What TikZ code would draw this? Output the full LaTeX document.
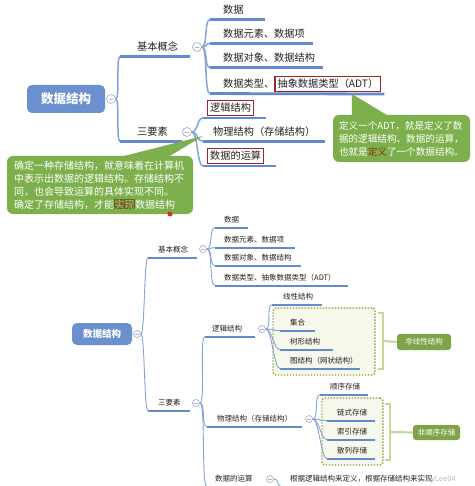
\documentclass[tikz,border=0pt]{standalone}
\usepackage{fontspec}
\setmainfont{Noto Sans CJK SC}
\usetikzlibrary{positioning}

\definecolor{txt}{HTML}{222222}
\definecolor{lineblue}{HTML}{6489CC}
\definecolor{fanblue}{HTML}{86A2D6}
\definecolor{rootblue}{HTML}{6A90D0}
\definecolor{foldgray}{HTML}{A7B3CC}
\definecolor{boxred}{HTML}{A0262C}
\definecolor{callgreen}{HTML}{7DB04C}
\definecolor{hlred}{HTML}{8E2B12}
\definecolor{hlbg}{HTML}{5F6A2C}
\definecolor{hltx}{HTML}{D9BD63}
\definecolor{dotolive}{HTML}{8C9A3A}
\definecolor{grpfill}{HTML}{F6F8EC}
\definecolor{brkgreen}{HTML}{C5D99B}
\definecolor{labgreen}{HTML}{7FA347}
\definecolor{dotred}{HTML}{D0302A}

\newcommand{\hlword}[1]{{\setlength{\fboxsep}{0.6pt}\colorbox{hlbg}{\color{hltx}#1}}}

\tikzset{
big/.style={font=\fontsize{10.2}{12}\selectfont,text=txt,text height=8.2pt,text depth=1.3pt,inner xsep=0pt,inner ysep=2.6pt,anchor=west},
small/.style={font=\fontsize{7.5}{9}\selectfont,text=txt,text height=6pt,text depth=0.9pt,inner xsep=0pt,inner ysep=2pt,anchor=west},
redbox/.style={draw=boxred,line width=1.3pt,inner xsep=2.5pt},
root/.style={fill=rootblue,text=white,rounded corners=5pt,inner sep=0pt},
fold/.style={circle,draw=foldgray,fill=white,line width=0.7pt,inner sep=0pt,minimum size=#1,
  path picture={\draw[foldgray,line width=0.7pt] ([xshift=-0.22*#1]path picture bounding box.center) -- ([xshift=0.22*#1]path picture bounding box.center);}},
fold/.default=9pt,
ulbig/.style={draw=lineblue,line width=2.8pt},
ulsmall/.style={draw=lineblue,line width=1.8pt},
fanbig/.style={draw=fanblue,line width=1.5pt},
fansmall/.style={draw=fanblue,line width=0.9pt},
fan/.style={out=0,in=180,distance=#1},
fan/.default=6pt,
grp/.style={draw=dotolive,fill=grpfill,line width=1.4pt,dash pattern=on 1.3pt off 1.7pt,rounded corners=3pt},
brk/.style={draw=brkgreen,line width=2.2pt},
tag/.style={fill=labgreen,text=white,rounded corners=3pt,inner sep=0pt,font=\fontsize{7.5}{9}\selectfont},
callout/.style={fill=callgreen,text=white,rounded corners=6pt,align=left,inner xsep=7pt}
}

\begin{document}
\begin{tikzpicture}[x=1pt,y=-1pt]

\path[fill=white,use as bounding box]
(0,0)
rectangle
(474,486);

\node[root,minimum width=78pt,minimum height=28pt,font=\fontsize{12.5}{14}\selectfont\bfseries]
(r1)
at (66,99)
{数据结构};

\node[fold]
(rc1)
at (111,99)
{};

\node[big]
(k1)
at (137,47)
{基本概念};

\node[fold]
(kc1)
at (197,47)
{};

\node[big]
(k2)
at (137,132)
{三要素};

\node[fold]
(kc2)
at (187,132)
{};

\node[big]
(d1)
at (223,10)
{数据};

\node[big]
(d2)
at (223,34)
{数据元素、数据项};

\node[big]
(d3)
at (223,58)
{数据对象、数据结构};

\node[big]
(d4a)
at (223,84)
{数据类型、};

\node[big,redbox,right=0pt of d4a]
(d4b)
{抽象数据类型（ADT）};

\node[big,redbox]
(e1)
at (207,108)
{逻辑结构};

\node[big]
(e2)
at (213,132)
{物理结构（存储结构）};

\node[big,redbox]
(e3)
at (207,156)
{数据的运算};

\node[grp,minimum width=102pt,minimum height=67pt]
(grp1)
at (324,341.5)
{};

\node[grp,minimum width=61pt,minimum height=67pt]
(grp2)
at (352.5,431.5)
{};

\node[root,minimum width=60pt,minimum height=22pt,font=\fontsize{9.5}{11}\selectfont\bfseries]
(r2)
at (102,334)
{数据结构};

\node[fold=7pt]
(rc2)
at (137,334)
{};

\node[small]
(b1)
at (158,250)
{基本概念};

\node[fold=7pt]
(bc1)
at (203,249)
{};

\node[small]
(b2)
at (158,403)
{三要素};

\node[fold=7pt]
(bc2)
at (196,403)
{};

\node[small]
(c1)
at (224,220)
{数据};

\node[small]
(c2)
at (224,240)
{数据元素、数据项};

\node[small]
(c3)
at (224,258)
{数据对象、数据结构};

\node[small]
(c4)
at (224,278)
{数据类型、抽象数据类型（ADT）};

\node[small]
(f1)
at (212,329)
{逻辑结构};

\node[fold=7pt]
(fc1)
at (262,329)
{};

\node[small]
(f2)
at (217,419)
{物理结构（存储结构）};

\node[fold=7pt]
(fc2)
at (309,419)
{};

\node[small]
(f3)
at (215,479)
{数据的运算};

\node[fold=7pt]
(fc3)
at (270,479)
{};

\node[small]
(g1)
at (283,297)
{线性结构};

\node[small]
(g2)
at (290,323)
{集合};

\node[small]
(g3)
at (290,342)
{树形结构};

\node[small]
(g4)
at (290,361)
{图结构（网状结构）};

\node[small]
(h1)
at (330,387)
{顺序存储};

\node[small]
(h2)
at (337,413)
{链式存储};

\node[small]
(h3)
at (337,432)
{索引存储};

\node[small]
(h4)
at (337,451)
{散列存储};

\node[small]
(j1)
at (290,479)
{根据逻辑结构来定义，根据存储结构来实现};

\node[small,text=gray!55]
(wm)
at (427,479)
{cyLee04};

\foreach \n/\a/\b in {d1/13/21,d2/13/8,d3/13/8,k1/17/12,k2/17/14,e1/4/12,e2/10/10,e3/4/12}{
\coordinate (\n-u) at ([xshift=-\a,yshift=-2pt]\n.south west);
\draw[ulbig] (\n-u) -- ([xshift=\b,yshift=-2pt]\n.south east);
}

\coordinate (d4a-u) at ([xshift=-13,yshift=-2pt]d4a.south west);
\draw[ulbig]
(d4a-u)
--
([xshift=3,yshift=-2pt]d4b.south east);

\foreach \n/\a/\b in {b1/10/9,b2/10/9,c1/9/9,c2/9/11,c3/9/9,c4/9/12,f1/7/13,f2/10/10,f3/8/9,g1/11/9,g2/10/10,g3/10/13,g4/10/2,h1/10/8,h2/10/8,h3/10/8,h4/10/8,j1/8/5}{
\coordinate (\n-u) at ([xshift=-\a,yshift=-2pt]\n.south west);
\draw[ulsmall] (\n-u) -- ([xshift=\b,yshift=-2pt]\n.south east);
}

\draw[fanbig] (rc1.east) to[fan=4pt] (k1-u);
\draw[fanbig] (rc1.east) to[fan=4pt] (k2-u);
\foreach \c in {d1,d2,d3,d4a}
\draw[fanbig] (kc1.east) to[fan] (\c-u);
\foreach \c in {e1,e2,e3}
\draw[fanbig] (kc2.east) to[fan] (\c-u);

\draw[fansmall] (rc2.east) to[fan=4pt] (b1-u);
\draw[fansmall] (rc2.east) to[fan=4pt] (b2-u);
\foreach \c in {c1,c2,c3,c4}
\draw[fansmall] (bc1.east) to[fan] (\c-u);
\foreach \c in {f1,f2,f3}
\draw[fansmall] (bc2.east) to[fan] (\c-u);
\foreach \c in {g1,g2,g3,g4}
\draw[fansmall] (fc1.east) to[fan] (\c-u);
\foreach \c in {h1,h2,h3,h4}
\draw[fansmall] (fc2.east) to[fan] (\c-u);
\draw[fansmall] (fc3.east) to[fan] (j1-u);

\node[tag,minimum width=54pt,minimum height=16pt]
(n1)
at (424,342)
{非线性结构};

\node[tag,minimum width=47pt,minimum height=15pt]
(n2)
at (436.5,432.5)
{非顺序存储};

\coordinate (br1) at (383,341);
\coordinate (br2) at (390,432);

\draw[brk]
(378,313) -- (383,313) -- (383,369) -- (378,369);
\draw[brk]
(br1)
--
(n1.west);

\draw[brk]
(385,404) -- (390,404) -- (390,460) -- (385,460);
\draw[brk]
(br2)
--
(n2.west);

\node[callout,minimum width=137pt,minimum height=47pt,text width=125pt,inner xsep=6pt,font=\fontsize{9.6}{13}\selectfont]
(co1)
at (401.5,138.5)
{定义一个ADT，就是定义了数\\据的逻辑结构、数据的运算，\\也就是{\color{hlred}定义}了一个数据结构。};

\coordinate (tip1) at (352,94);
\fill[callgreen]
(tip1)
--
([xshift=19pt,yshift=-2pt]co1.north west)
--
([xshift=57pt,yshift=-2pt]co1.north west)
--
cycle;

\node[callout,minimum width=186pt,minimum height=58pt,text width=172pt,font=\fontsize{10}{13}\selectfont]
(co2)
at (100,185)
{确定一种存储结构，就意味着在计算机\\中表示出数据的逻辑结构。存储结构不\\同，也会导致运算的具体实现不同。\\确定了存储结构，才能\hlword{实现}数据结构};

\coordinate (tip2) at (203,136);
\fill[callgreen]
(tip2)
--
([xshift=110pt,yshift=-2pt]co2.north west)
--
([xshift=160pt,yshift=-2pt]co2.north west)
--
cycle;

\node[circle,fill=dotred,inner sep=0pt,minimum size=5pt]
(pin)
at (170,214)
{};

\end{tikzpicture}
\end{document}
